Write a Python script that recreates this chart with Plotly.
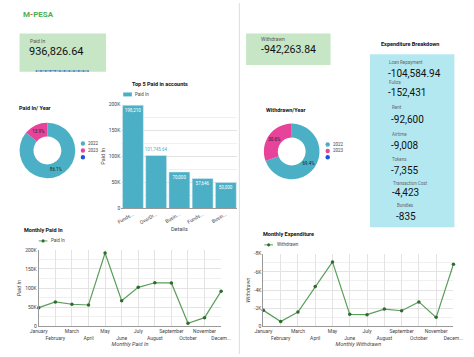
import plotly.graph_objects as go

W, H = 474, 357
def px(x): return x / W
def py(y): return 1 - y / H

# ---------------- data ----------------
paid_in_total = "936,826.64"
withdrawn_total = "-942,263.84"
exp_labels = ["Loan Repayment", "Fuliza", "Rent", "Airtime", "Tokens", "Transaction Cost", "Bundles"]
exp_values = ["-104,584.94", "-152,431", "-92,600", "-9,008", "-7,355", "-4,423", "-835"]

years = ["2022", "2023"]
paid_in_year_pct = [86.1, 13.9]
withdrawn_year_pct = [69.4, 30.6]

top5_accounts = ["Funds received from A", "OverDraft of Credit Party", "Business Payment from B",
                 "Funds received from C", "Business Payment from D"]
top5_ticks = ["Funds...", "OverDr...", "Busin...", "Funds...", "Busin..."]
top5_values = [198210, 101745.64, 70000, 57646, 50000]
bar_yticks = [0, 50000, 100000, 150000, 200000]
bar_yticktext = ["0", "50K", "100K", "150K", "200K"]

months = ["January", "February", "March", "April", "May", "June", "July",
          "August", "September", "October", "November", "December"]
month_ticks = ["January", "<br>February", "March", "<br>April", "May", "<br>June", "July",
               "<br>August", "September", "<br>October", "November", "<br>Decem..."]
monthly_paid_in = [49000, 64000, 58000, 56000, 191500, 67000, 102000, 114000, 113500, 8500, 23000, 92000]
paid_yticks = [0, 50000, 100000, 150000, 200000]
paid_yticktext = ["0", "50K", "100K", "150K", "200K"]

monthly_withdrawn = [-1770, -540, -1590, -4400, -7100, -1330, -1300, -1910, -1730, -2700, -1000, -6850]
wd_yticks = [0, -2000, -4000, -6000, -8000]
wd_yticktext = ["0", "-2K", "-4K", "-6K", "-8K"]

spark_values = [5, 6, 5, 6, 7, 5, 6, 5, 5, 6, 5, 5]

# ---------------- styles ----------------
FONT = "Roboto"
CYAN = "#4bb0c6"
PINK = "#e8439a"
BLUE = "#1a55d8"
GREEN_LINE = "#5a9e5a"
GREEN_MK = "#2e6b2e"
GRID = "#e3e3e3"
MINOR = "#f0f0f0"
TICKC = "#444"

fig = go.Figure()

# Top 5 bar chart
fig.add_trace(go.Bar(
    x=top5_accounts, y=top5_values, marker_color=CYAN, xaxis="x", yaxis="y",
    texttemplate="%{y:,}", textposition=["inside", "outside", "inside", "inside", "inside"],
    textangle=0, constraintext="none",
    insidetextanchor="end", insidetextfont=dict(color="white", size=4.5, family=FONT),
    outsidetextfont=dict(color=CYAN, size=4.5, family=FONT), cliponaxis=False,
    showlegend=False, hoverinfo="skip"))

# Monthly paid in
fig.add_trace(go.Scatter(
    x=months, y=monthly_paid_in, mode="lines+markers", xaxis="x2", yaxis="y2",
    line=dict(color=GREEN_LINE, width=1.2), marker=dict(color=GREEN_MK, size=3.5),
    showlegend=False, cliponaxis=False))

# Monthly withdrawn
fig.add_trace(go.Scatter(
    x=months, y=monthly_withdrawn, mode="lines+markers", xaxis="x3", yaxis="y3",
    line=dict(color=GREEN_LINE, width=1.2), marker=dict(color=GREEN_MK, size=3.5),
    showlegend=False, cliponaxis=False))

# Sparkline
fig.add_trace(go.Scatter(
    y=spark_values, mode="lines+markers", xaxis="x4", yaxis="y4",
    line=dict(color="#3d6fc4", width=0.8), marker=dict(color="#3d6fc4", size=1.8),
    showlegend=False))

# Pies
pie_common = dict(hole=0.5, sort=False, direction="clockwise", textinfo="percent",
                  texttemplate="%{percent:.1%}", textposition="inside",
                  insidetextorientation="horizontal",
                  textfont=dict(size=4.5, color="#222", family=FONT),
                  marker=dict(colors=[CYAN, PINK]), showlegend=False, hoverinfo="skip")
fig.add_trace(go.Pie(labels=years, values=paid_in_year_pct,
                     domain=dict(x=[px(11), px(69)], y=[py(179), py(121)]), **pie_common))
fig.add_trace(go.Pie(labels=years, values=withdrawn_year_pct,
                     domain=dict(x=[px(265.5), px(323.5)], y=[py(180), py(122)]), **pie_common))

tickfont = dict(size=5, color=TICKC, family=FONT)
axtitle = dict(size=5.5, color=TICKC, family=FONT)

fig.update_layout(
    width=W, height=H, margin=dict(l=0, r=0, t=0, b=0),
    paper_bgcolor="white", plot_bgcolor="white",
    font=dict(family=FONT, color="#222"),
    bargap=0.1,
    xaxis=dict(domain=[px(117), px(238)], tickangle=-30, tickfont=tickfont,
               tickvals=top5_accounts, ticktext=top5_ticks, showgrid=False,
               showline=True, linecolor="#999", linewidth=1, ticks="",
               title=dict(text="Details", font=axtitle, standoff=2), anchor="y"),
    yaxis=dict(domain=[py(209), py(103)], range=[0, 200000], tickvals=bar_yticks,
               ticktext=bar_yticktext, tickfont=tickfont, gridcolor=GRID, zeroline=False,
               minor=dict(tickmode="linear", tick0=0, dtick=25000, showgrid=True, gridcolor=MINOR),
               title=dict(text="Paid In", font=axtitle, standoff=2), anchor="x"),
    xaxis2=dict(domain=[px(31), px(221)], range=[0, 11], tickvals=months, ticktext=month_ticks,
                tickangle=0, tickfont=tickfont, gridcolor=GRID, showline=True, linecolor="#999",
                ticks="", title=dict(text="<i>Monthly Paid In</i>", font=axtitle, standoff=1),
                anchor="y2"),
    yaxis2=dict(domain=[py(329), py(251)], range=[0, 200000], tickvals=paid_yticks,
                ticktext=paid_yticktext, tickfont=tickfont, gridcolor=GRID, zeroline=False,
                showline=True, linecolor="#999",
                minor=dict(tickmode="linear", tick0=0, dtick=25000, showgrid=True, gridcolor=MINOR),
                title=dict(text="<i>Paid In</i>", font=axtitle, standoff=3), anchor="x2"),
    xaxis3=dict(domain=[px(265), px(463)], range=[0, 11], tickvals=months, ticktext=month_ticks,
                tickangle=0, tickfont=tickfont, gridcolor=GRID, showline=True, linecolor="#999",
                ticks="", title=dict(text="<i>Monthly Withdrawn</i>", font=axtitle, standoff=1),
                anchor="y3"),
    yaxis3=dict(domain=[py(329), py(255)], range=[0, -8000], tickvals=wd_yticks,
                ticktext=wd_yticktext, tickfont=tickfont, gridcolor=GRID, zeroline=False,
                showline=True, linecolor="#999",
                minor=dict(tickmode="linear", tick0=0, dtick=1000, showgrid=True, gridcolor=MINOR),
                title=dict(text="<i>Withdrawn</i>", font=axtitle, standoff=3), anchor="x3"),
    xaxis4=dict(domain=[px(22), px(89)], visible=False, anchor="y4"),
    yaxis4=dict(domain=[py(70), py(64)], range=[0, 40], visible=False, anchor="x4"),
)

shapes = []
annotations = []

def text(x, y, s, size, color="#222", bold=False, anchor="left"):
    if bold:
        s = "<b>" + s + "</b>"
    annotations.append(dict(x=px(x), y=py(y), xref="paper", yref="paper", text=s,
                            showarrow=False, xanchor=anchor, yanchor="middle", borderpad=0,
                            font=dict(size=size, color=color, family=FONT)))

# divider
shapes.append(dict(type="line", xref="paper", yref="paper", x0=px(240), x1=px(240), y0=0, y1=1,
                   line=dict(color="#dddddd", width=1)))

# Logo
annotations.append(dict(x=px(13), y=py(12), xref="paper", yref="paper", showarrow=False,
                        xanchor="left", yanchor="middle",
                        text="<b>M<span style='color:#e53935'>-</span>PESA</b>",
                        font=dict(size=8, color="#4caf50", family=FONT)))

# Paid In card
shapes.append(dict(type="rect", xref="paper", yref="paper", x0=px(11), x1=px(101), y0=py(70), y1=py(31),
                   fillcolor="#c6e6c6", line=dict(width=0), layer="below"))
text(21, 39, "Paid In", 5, "#555")
text(20, 49, paid_in_total, 11, "#111")

# Withdrawn card
shapes.append(dict(type="rect", xref="paper", yref="paper", x0=px(247), x1=px(335), y0=py(63), y1=py(31),
                   fillcolor="#c6e6c6", line=dict(width=0), layer="below"))
text(262, 37, "Withdrawn", 5, "#555")
text(261, 47, withdrawn_total, 10.5, "#111")

# Expenditure breakdown
text(418, 42, "Expenditure Breakdown", 5.5, "#111", bold=True, anchor="center")
shapes.append(dict(type="rect", xref="paper", yref="paper", x0=px(376), x1=px(464), y0=py(228), y1=py(52),
                   fillcolor="#b3e8f0", line=dict(width=0), layer="below"))
exp_lab_y = [61, 81, 106, 134, 159, 184, 206]
exp_val_y = [71.5, 91, 119, 145, 170, 193, 217]
exp_x = [395, 395, 398, 398, 398, 399, 403]
for lab, val, ly, vy, xx in zip(exp_labels, exp_values, exp_lab_y, exp_val_y, exp_x):
    text(xx, ly, lab, 4.5, "#666")
    text(xx - 1, vy, val, 10, "#111")

# Chart titles
text(157, 82, "Top 5 Paid in accounts", 5.5, "#111", bold=True, anchor="center")
text(9, 107, "Paid In/ Year", 5.5, "#111", bold=True)
text(267, 109, "Withdrawn/Year", 5.5, "#111", bold=True)
text(15, 231, "Monthly Paid In", 5.5, "#111", bold=True)
text(264, 235, "Monthly Expenditure", 5.5, "#111", bold=True)

# Bar legend
shapes.append(dict(type="rect", xref="paper", yref="paper", x0=px(119), x1=px(128), y0=py(95), y1=py(91),
                   fillcolor=CYAN, line=dict(width=0)))
text(130, 93, "Paid In", 4.5, "#444")

# Pie legends
for cx, ys in [(77, [143, 150, 157]), (332, [144, 150.5, 157])]:
    for col, yy, lab in zip([CYAN, PINK, BLUE], ys, years + [""]):
        shapes.append(dict(type="circle", xref="paper", yref="paper",
                           x0=px(cx - 2.3), x1=px(cx + 2.3), y0=py(yy + 2.3), y1=py(yy - 2.3),
                           fillcolor=col, line=dict(width=0)))
        if lab:
            text(cx + 4, yy, lab, 4.5, "#444")

# Line legends
for x0, x1, yy, lab in [(31, 40, 242, "Paid In"), (266, 275, 246, "Withdrawn")]:
    shapes.append(dict(type="line", xref="paper", yref="paper", x0=px(x0), x1=px(x1), y0=py(yy), y1=py(yy),
                       line=dict(color=GREEN_LINE, width=1)))
    cx = (x0 + x1) / 2
    shapes.append(dict(type="circle", xref="paper", yref="paper",
                       x0=px(cx - 1.6), x1=px(cx + 1.6), y0=py(yy + 1.6), y1=py(yy - 1.6),
                       fillcolor=GREEN_MK, line=dict(width=0)))
    text(x1 + 3, yy, lab, 4.5, "#444")

fig.update_layout(shapes=shapes, annotations=annotations)
fig.write_html("out.html", config={"displayModeBar": False},
               post_script="document.body.style.margin='0';document.body.style.overflow='hidden';")
